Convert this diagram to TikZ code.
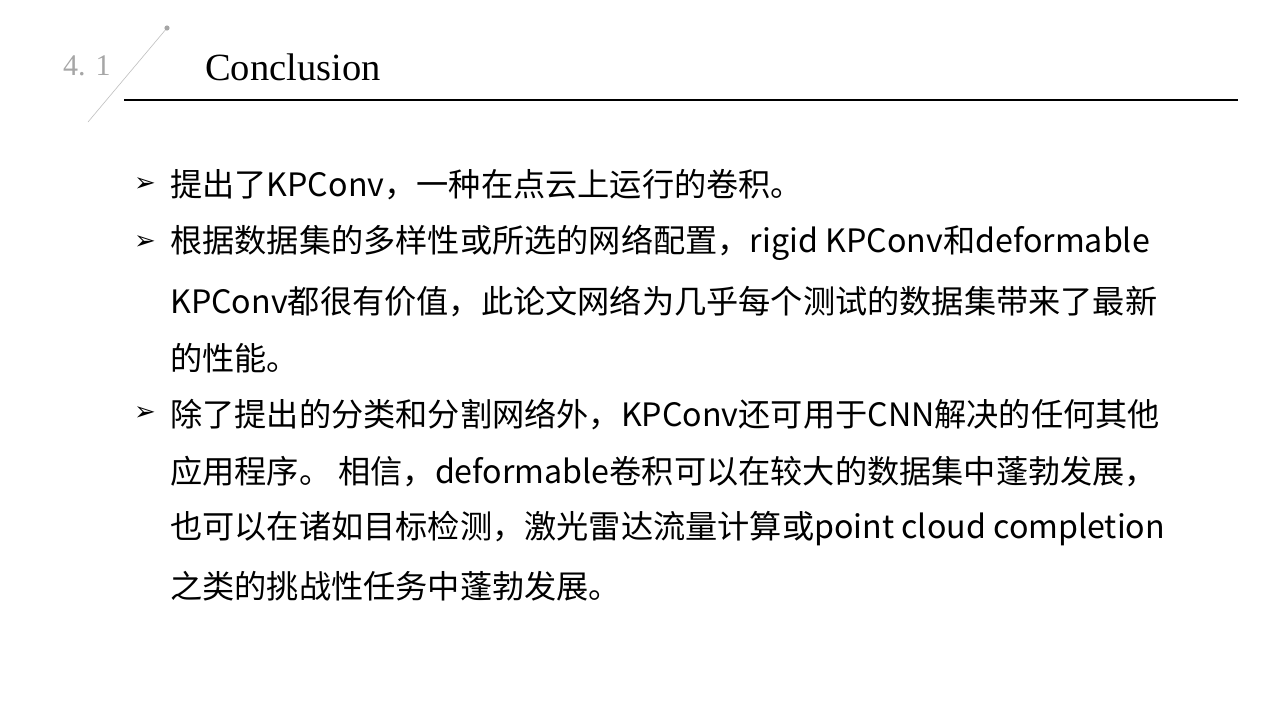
\documentclass[tikz,border=0pt]{standalone}
\usepackage{fontspec}
\setmainfont{Liberation Serif}
\newfontfamily\cjk{Noto Sans CJK SC}
\newfontfamily\sym{DejaVu Sans}
\begin{document}
\begin{tikzpicture}[x=1pt,y=-1pt,
  body/.style={anchor=west,inner sep=0pt,font=\cjk\fontsize{32.2}{34}\selectfont,text=black},
  bul/.style={anchor=west,inner sep=0pt,font=\sym\bfseries\fontsize{26}{28}\selectfont}]
\useasboundingbox[fill=white] (0,0) rectangle (1280,720);
\node[anchor=west,inner sep=0pt,text=gray!70,font=\fontsize{30}{32}\selectfont] (num) at (63,66) {4. 1};
\coordinate (la) at (167,28);
\coordinate (lb) at (88,122);
\draw[gray!50,line width=0.6pt] (la) -- (lb);
\fill[gray!70] (la) circle (2.6);
\node[anchor=west,inner sep=0pt,font=\fontsize{38.5}{40}\selectfont] (title) at (205,67) {Conclusion};
\coordinate (ra) at (124,100);
\coordinate (rb) at (1238,100);
\draw[line width=2pt] (ra) -- (rb);
\node[bul] (b1) at (134,185) {➢};
\node[body] (t1) at (170,185) {提出了KPConv，一种在点云上运行的卷积。};
\node[bul] (b2) at (134,243) {➢};
\node[body] (t2) at (170,243) {根据数据集的多样性或所选的网络配置，rigid KPConv和deformable};
\node[body] (t3) at (170,301) {KPConv都很有价值，此论文网络为几乎每个测试的数据集带来了最新};
\node[body] (t4) at (170,358) {的性能。};
\node[bul] (b3) at (134,414) {➢};
\node[body] (t5) at (170,414) {除了提出的分类和分割网络外，KPConv还可用于CNN解决的任何其他};
\node[body] (t6) at (170,472) {应用程序。 相信，deformable卷积可以在较大的数据集中蓬勃发展，};
\node[body] (t7) at (170,529) {也可以在诸如目标检测，激光雷达流量计算或point cloud completion};
\node[body] (t8) at (170,586) {之类的挑战性任务中蓬勃发展。};
\end{tikzpicture}
\end{document}
